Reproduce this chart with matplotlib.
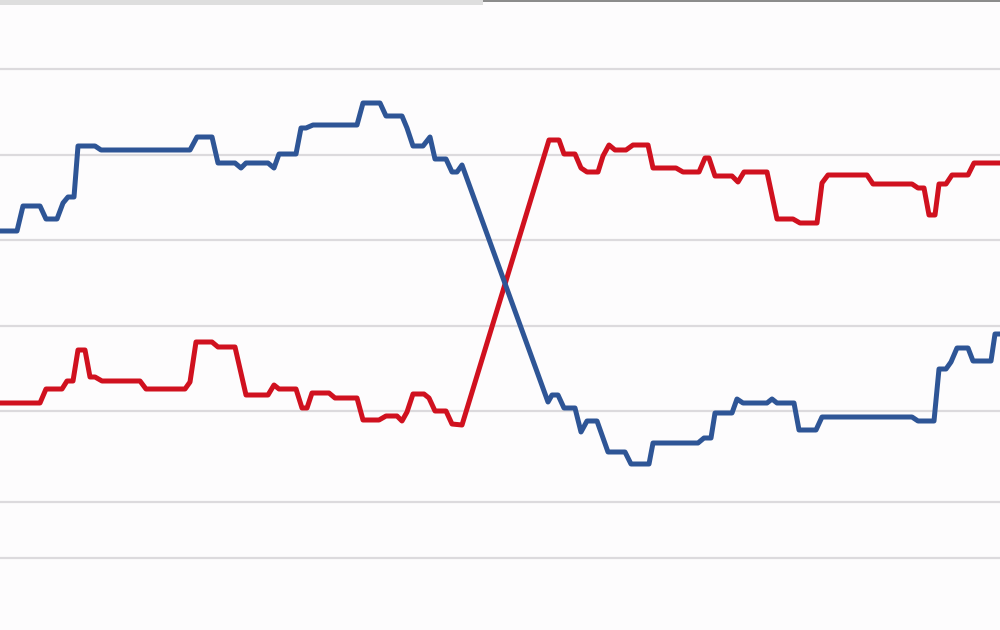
import matplotlib
matplotlib.use("Agg")
import matplotlib.pyplot as plt

# valeurs (x = position, y = niveau)
blue_x = [0, 17, 23, 40, 46, 57, 63, 68, 74, 78, 95, 101, 190, 197, 212, 218, 235, 241, 246, 268,
          274, 279, 296, 301, 306, 313, 357, 363, 380, 386, 402, 407, 413, 423, 430, 435, 446, 452,
          457, 462, 548, 552, 558, 564, 575, 581, 587, 597, 608, 625, 631, 649, 653, 698, 704, 711,
          715, 732, 737, 743, 767, 772, 777, 794, 799, 816, 822, 912, 918, 934, 939, 946, 951, 957,
          968, 973, 991, 995, 1000]
blue_y = [399, 399, 424, 424, 411, 411, 427, 433, 433, 484, 484, 480, 480, 493, 493, 467, 467, 462, 467, 467,
          462, 476, 476, 502, 502, 505, 505, 527, 527, 514, 514, 502, 484, 484, 493, 471, 471, 458,
          458, 465, 228, 235, 235, 222, 222, 198, 209, 209, 178, 178, 166, 166, 187, 187, 192, 192,
          217, 217, 231, 227, 227, 231, 227, 227, 200, 200, 213, 213, 209, 209, 261, 261, 268, 282,
          282, 269, 269, 296, 296]

red_x = [0, 40, 46, 62, 67, 73, 78, 85, 90, 95, 102, 140, 146, 185, 190, 196, 212, 218, 235, 246,
         268, 274, 279, 296, 302, 307, 312, 329, 335, 357, 363, 379, 386, 397, 402, 407, 413, 424,
         429, 435, 446, 452, 462, 549, 559, 564, 575, 581, 587, 598, 603, 609, 615, 626, 633, 648,
         653, 676, 683, 699, 705, 709, 715, 732, 738, 744, 767, 777, 793, 800, 817, 822, 828, 867,
         873, 912, 918, 924, 929, 935, 939, 946, 952, 968, 974, 1000]
red_y = [227, 227, 241, 241, 249, 249, 280, 280, 253, 253, 249, 249, 241, 241, 248, 288, 288, 283, 283, 235,
         235, 245, 241, 241, 222, 222, 237, 237, 232, 232, 210, 210, 214, 214, 209, 218, 236, 236,
         232, 219, 219, 206, 205, 490, 490, 476, 476, 462, 458, 458, 474, 485, 480, 480, 485, 485,
         462, 462, 458, 458, 472, 472, 454, 454, 448, 458, 458, 411, 411, 407, 407, 447, 455, 455,
         446, 446, 442, 442, 415, 415, 446, 446, 455, 455, 467, 467]

grid_levels = [72, 128, 219, 304, 390, 475, 561]

fig = plt.figure(figsize=(10, 6.3), dpi=100)
fig.patch.set_facecolor('#fdfcfd')
ax = fig.add_axes([0, 0, 1, 1])
ax.set_facecolor('#fdfcfd')

ax.set_xlim(0, 1000)
ax.set_ylim(0, 630)
ax.set_yticks(grid_levels)
ax.grid(axis='y', color='#dcdadd', linewidth=1.6)
ax.tick_params(left=False, bottom=False, labelleft=False, labelbottom=False)
for s in ax.spines.values():
    s.set_visible(False)

# bord gris en haut
ax.axhspan(625, 630, xmax=0.483, color='#dedede', lw=0)
ax.axhspan(628.5, 630, xmin=0.483, color='#8c8c8c', lw=0)

ax.plot(red_x, red_y, color='#d0111f', linewidth=3.6, solid_joinstyle='round', solid_capstyle='round')
ax.plot(blue_x, blue_y, color='#2e5596', linewidth=3.6, solid_joinstyle='round', solid_capstyle='round')

fig.savefig('out.png', dpi=100, facecolor=fig.get_facecolor())
